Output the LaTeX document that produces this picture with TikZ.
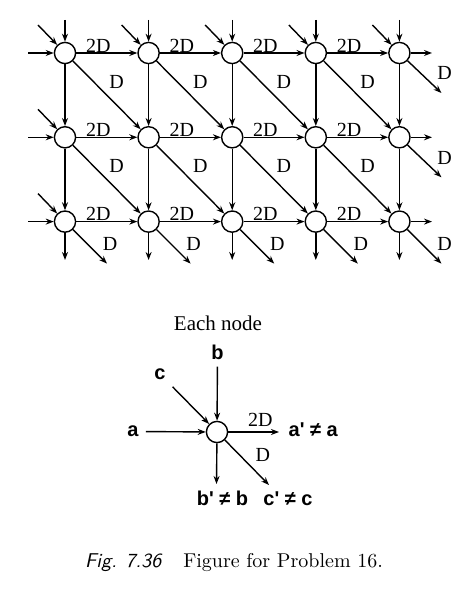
\documentclass[tikz,border=0pt]{standalone}
\usepackage{fontspec}
\newfontfamily\timesf{Liberation Serif}
\newfontfamily\helvf{Liberation Sans}
\usetikzlibrary{arrows.meta,positioning}

\begin{document}
\begin{tikzpicture}[x=0.5pt,y=-0.5pt,->,>={Stealth[length=4pt,width=3pt]},
                    line width=0.7pt,
                    cell/.style={circle,draw,minimum size=10.6pt,inner sep=0pt},
                    hl/.style={font=\timesf,inner sep=0pt,above},
                    dl/.style={font=\timesf,inner sep=2pt,above right},
                    io/.style={font=\helvf\bfseries}]

  \useasboundingbox (0,0) rectangle (474,597);

  % the array
  \node[cell] at (65,53)       (A1) {};
  \node[cell] at (148.6,53)    (A2) {};
  \node[cell] at (232.2,53)    (A3) {};
  \node[cell] at (315.8,53)    (A4) {};
  \node[cell] at (399.4,53)    (A5) {};
  \node[cell] at (65,137.3)    (B1) {};
  \node[cell] at (148.6,137.3) (B2) {};
  \node[cell] at (232.2,137.3) (B3) {};
  \node[cell] at (315.8,137.3) (B4) {};
  \node[cell] at (399.4,137.3) (B5) {};
  \node[cell] at (65,221.6)    (C1) {};
  \node[cell] at (148.6,221.6) (C2) {};
  \node[cell] at (232.2,221.6) (C3) {};
  \node[cell] at (315.8,221.6) (C4) {};
  \node[cell] at (399.4,221.6) (C5) {};

  % free ends
  \coordinate (t1) at (65,20);    \coordinate (d1) at (38,25);
  \coordinate (t2) at (148.6,20); \coordinate (d2) at (121.6,25);
  \coordinate (t3) at (232.2,20); \coordinate (d3) at (205.2,25);
  \coordinate (t4) at (315.8,20); \coordinate (d4) at (288.8,25);
  \coordinate (t5) at (399.4,20); \coordinate (d5) at (372.4,25);
  \coordinate (lA) at (28,53);    \coordinate (rA) at (432,53);
  \coordinate (lB) at (28,137.3); \coordinate (rB) at (432,137.3);
  \coordinate (lC) at (28,221.6); \coordinate (rC) at (432,221.6);
  \coordinate (dB) at (38,109.3); \coordinate (eA) at (441.4,93);
  \coordinate (dC) at (38,193.6); \coordinate (eB) at (441.4,177.3);
  \coordinate (s1) at (65,260);    \coordinate (e1) at (107,263.6);
  \coordinate (s2) at (148.6,260); \coordinate (e2) at (190.6,263.6);
  \coordinate (s3) at (232.2,260); \coordinate (e3) at (274.2,263.6);
  \coordinate (s4) at (315.8,260); \coordinate (e4) at (357.8,263.6);
  \coordinate (s5) at (399.4,260); \coordinate (e5) at (441.4,263.6);

  \path (t1) edge (A1)  (d1) edge (A1)
        (t2) edge (A2)  (d2) edge (A2)
        (t3) edge (A3)  (d3) edge (A3)
        (t4) edge (A4)  (d4) edge (A4)
        (t5) edge (A5)  (d5) edge (A5)
        (lA) edge (A1)  (lB) edge (B1)  (lC) edge (C1)
        (dB) edge (B1)  (dC) edge (C1);

  \path (A1) edge node[hl,pos=.36] {2D} (A2)
             edge (B1)
             edge node[dl,pos=.47] {D} (B2)
        (A2) edge node[hl,pos=.36] {2D} (A3)
             edge (B2)
             edge node[dl,pos=.47] {D} (B3)
        (A3) edge node[hl,pos=.36] {2D} (A4)
             edge (B3)
             edge node[dl,pos=.47] {D} (B4)
        (A4) edge node[hl,pos=.36] {2D} (A5)
             edge (B4)
             edge node[dl,pos=.47] {D} (B5)
        (A5) edge (rA)
             edge (B5)
             edge node[dl,pos=.74] {D} (eA);

  \path (B1) edge node[hl,pos=.36] {2D} (B2)
             edge (C1)
             edge node[dl,pos=.47] {D} (C2)
        (B2) edge node[hl,pos=.36] {2D} (B3)
             edge (C2)
             edge node[dl,pos=.47] {D} (C3)
        (B3) edge node[hl,pos=.36] {2D} (B4)
             edge (C3)
             edge node[dl,pos=.47] {D} (C4)
        (B4) edge node[hl,pos=.36] {2D} (B5)
             edge (C4)
             edge node[dl,pos=.47] {D} (C5)
        (B5) edge (rB)
             edge (C5)
             edge node[dl,pos=.74] {D} (eB);

  \path (C1) edge node[hl,pos=.36] {2D} (C2)
             edge (s1)
             edge node[dl,pos=.74] {D} (e1)
        (C2) edge node[hl,pos=.36] {2D} (C3)
             edge (s2)
             edge node[dl,pos=.74] {D} (e2)
        (C3) edge node[hl,pos=.36] {2D} (C4)
             edge (s3)
             edge node[dl,pos=.74] {D} (e3)
        (C4) edge node[hl,pos=.36] {2D} (C5)
             edge (s4)
             edge node[dl,pos=.74] {D} (e4)
        (C5) edge (rC)
             edge (s5)
             edge node[dl,pos=.74] {D} (e5);

  % each node
  \node[font=\timesf\fontsize{10.5}{12}\selectfont,anchor=base] at (218,331) (each) {Each node};
  \node[cell] at (217,432)  (X) {};
  \node[io] at (217.5,352)  (b) {b};
  \node[io] at (160,374)    (c) {c};
  \node[io] at (133,431.5)  (a) {a};
  \coordinate (aout) at (279,432);
  \coordinate (bout) at (216.5,484);
  \coordinate (cout) at (269,485);
  \node[io,anchor=base west,inner sep=0pt] at (288,436.5) (an) {a' ≠ a};
  \node[io,anchor=base] at (222.5,505) (bn) {b' ≠ b};
  \node[io,anchor=base] at (288,505)   (cn) {c' ≠ c};

  \path (b) edge (X)
        (c) edge (X)
        (a) edge (X)
        (X) edge node[hl,inner sep=2.5pt,pos=.63] {2D} (aout)
            edge (bout)
            edge node[dl,pos=.59] {D} (cout);

  \node[anchor=base] at (234,567) (cap) {{\sffamily\itshape Fig. 7.36}\hspace{11pt}Figure for Problem 16.};

\end{tikzpicture}
\end{document}
